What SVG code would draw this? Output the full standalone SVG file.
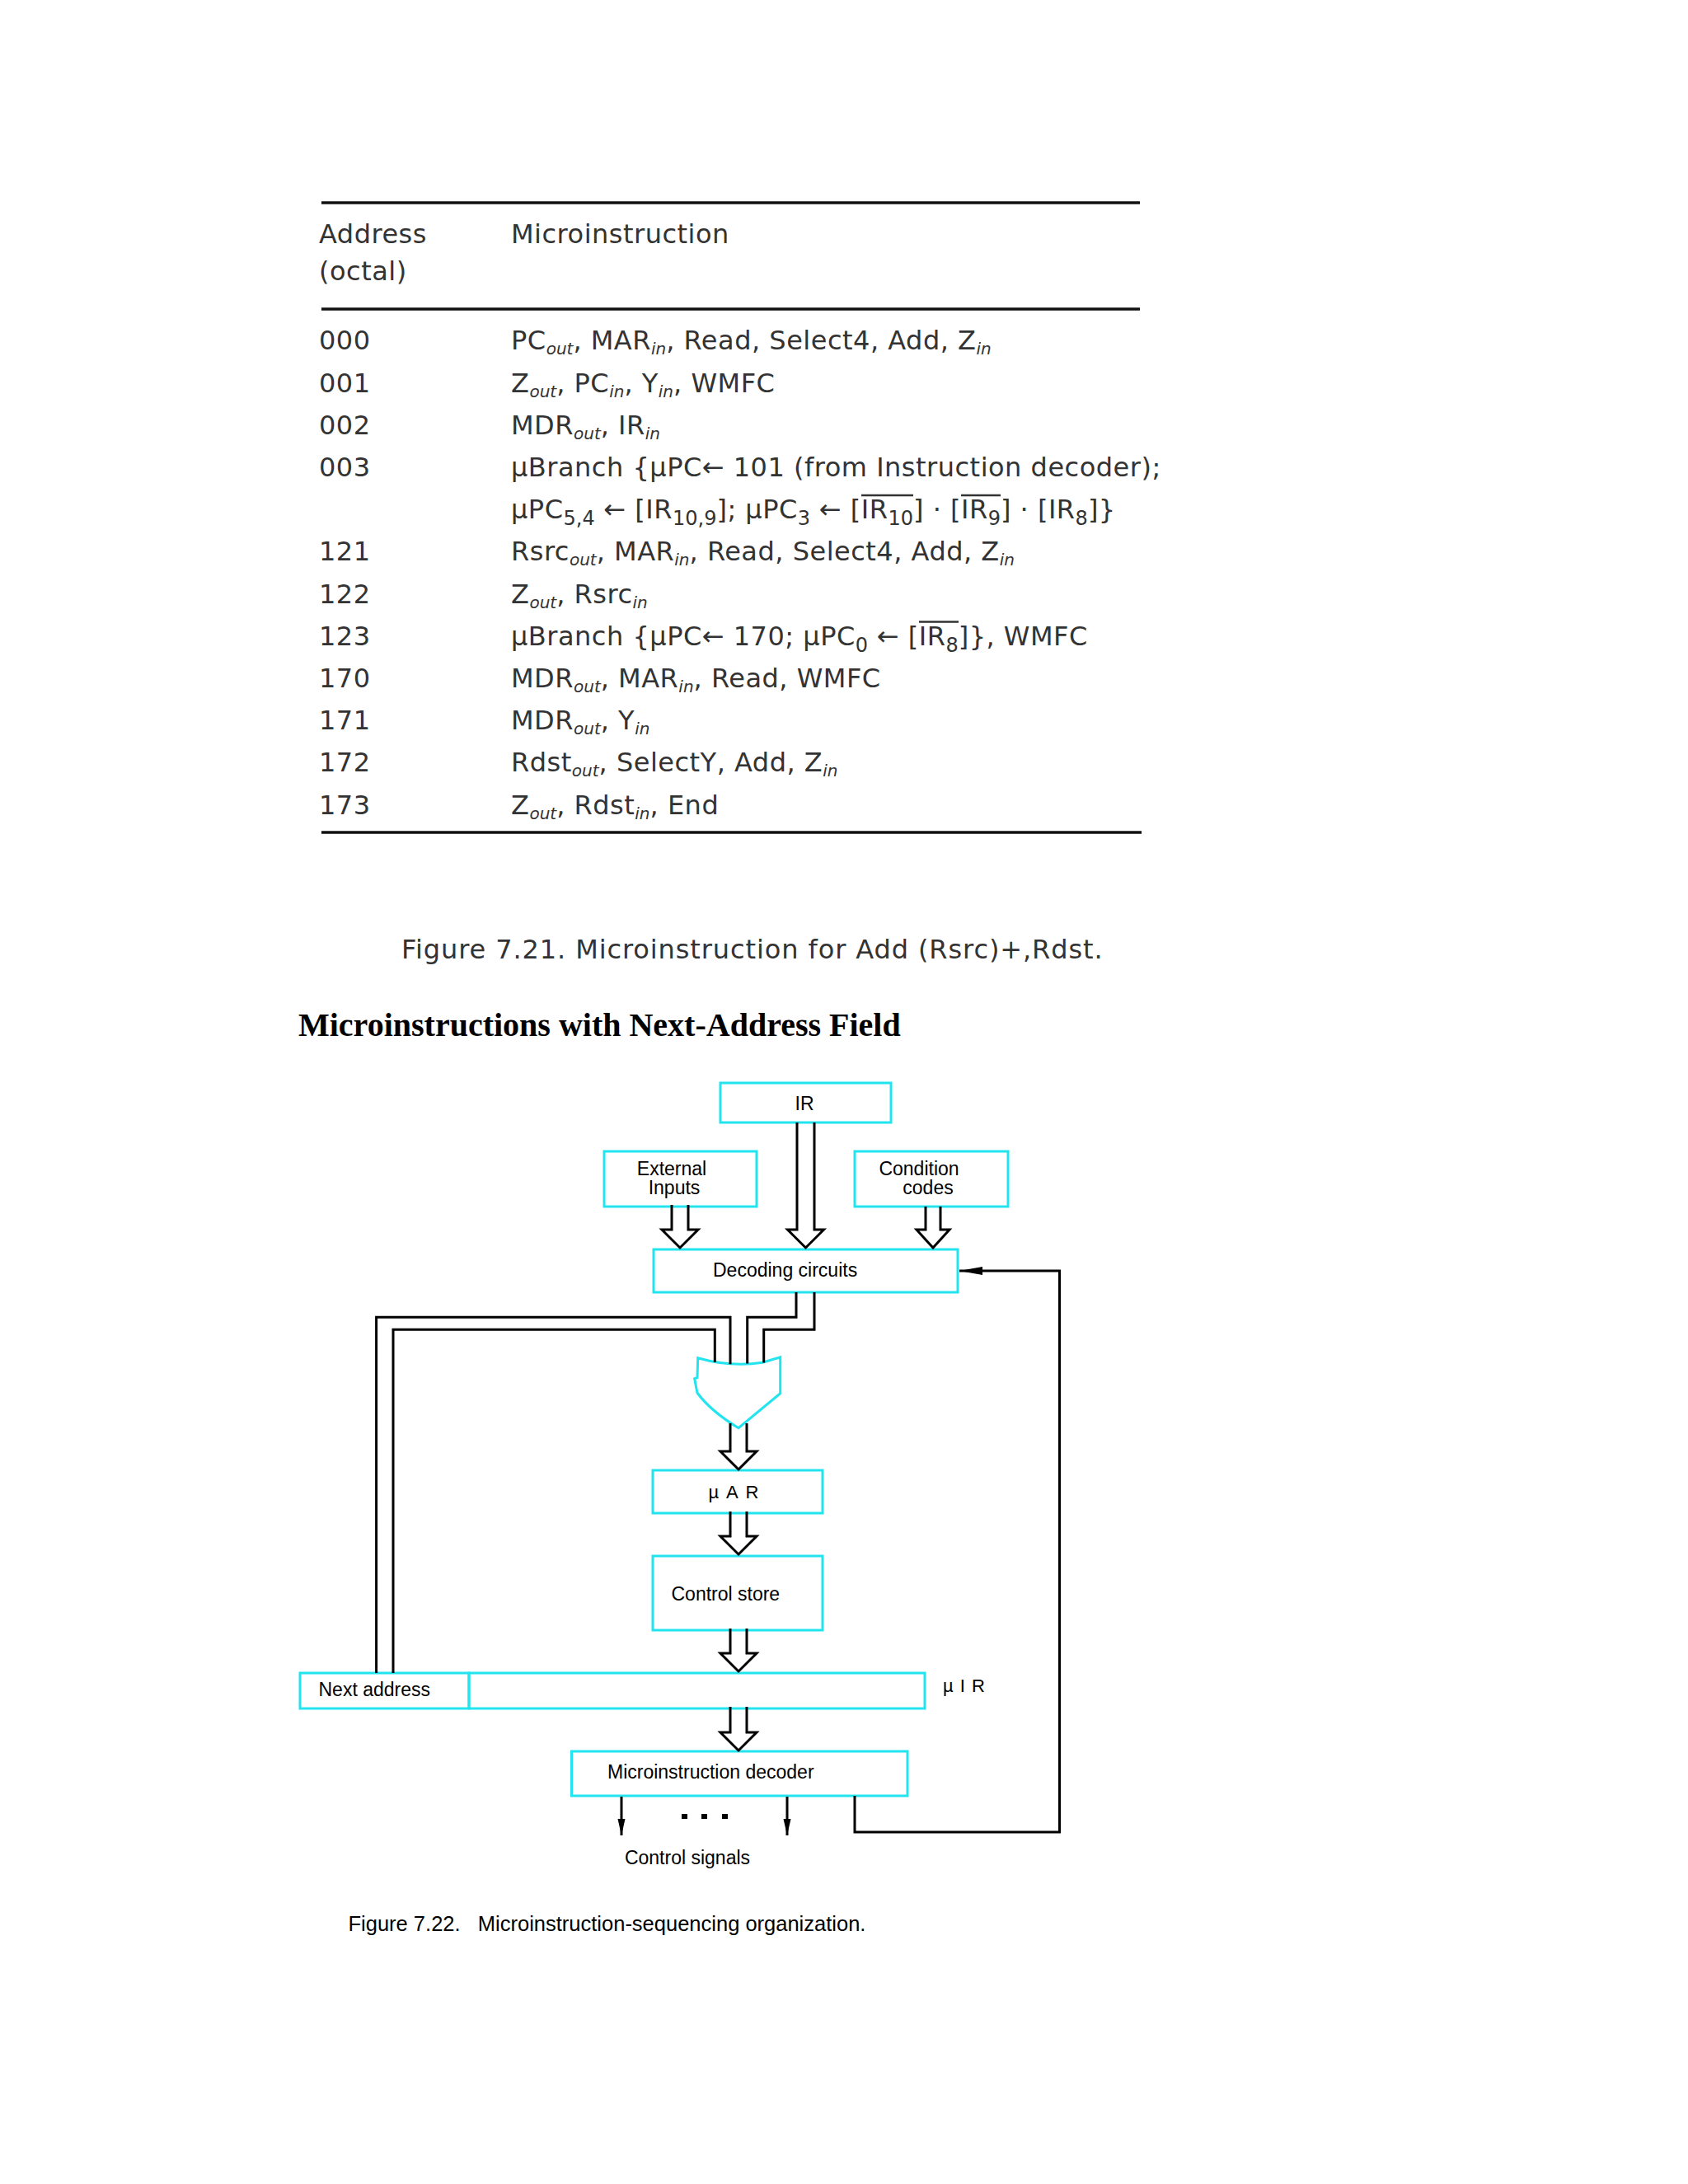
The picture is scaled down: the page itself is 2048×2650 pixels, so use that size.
<svg xmlns="http://www.w3.org/2000/svg" width="2048" height="2650" viewBox="0 0 2048 2650">
<style>
.t{font-family:"DejaVu Sans","Liberation Sans",sans-serif;font-size:32px;fill:#333;letter-spacing:0.5px}
.s{font-size:20px;font-style:italic;letter-spacing:0}
.n{font-size:24px;letter-spacing:0}
.ovl{stroke:#333;stroke-width:2.5}
.rule{stroke:#111;stroke-width:3.5}
.d{font-family:"Liberation Sans",Arial,sans-serif;font-size:23px;fill:#000}
.box{fill:none;stroke:#22e4ee;stroke-width:3}
.bus{fill:none;stroke:#000;stroke-width:3;stroke-linejoin:miter}
.ln{fill:none;stroke:#000;stroke-width:3}
.h{font-family:"Liberation Serif","Times New Roman",serif;font-size:40px;font-weight:bold;fill:#000}
</style>
<defs>
<marker id="fb" markerUnits="userSpaceOnUse" markerWidth="28" markerHeight="10" refX="28" refY="5" orient="auto">
<path d="M0,0 L28,5 L0,10 Z" fill="#000"/>
</marker>
<marker id="cs" markerUnits="userSpaceOnUse" markerWidth="20" markerHeight="10" refX="20" refY="5" orient="auto">
<path d="M0,0.5 L20,5 L0,9.5 Z" fill="#000"/>
</marker>
</defs>
<rect width="2048" height="2650" fill="#fff"/>

<g id="table">
<line class="rule" x1="390" y1="246" x2="1383" y2="246"/>
<line class="rule" x1="390" y1="375" x2="1383" y2="375"/>
<line class="rule" x1="390" y1="1010" x2="1385" y2="1010"/>
<text class="t" x="387" y="295">Address</text>
<text class="t" x="387" y="340">(octal)</text>
<text class="t" x="620" y="295">Microinstruction</text>

<text class="t" x="387" y="424.3">000</text>
<text class="t" x="620" y="424.3">PC<tspan class="s" dy="6">out</tspan><tspan dy="-6">, MAR</tspan><tspan class="s" dy="6">in</tspan><tspan dy="-6">, Read, Select4, Add, Z</tspan><tspan class="s" dy="6">in</tspan></text>

<text class="t" x="387" y="475.5">001</text>
<text class="t" x="620" y="475.5">Z<tspan class="s" dy="6">out</tspan><tspan dy="-6">, PC</tspan><tspan class="s" dy="6">in</tspan><tspan dy="-6">, Y</tspan><tspan class="s" dy="6">in</tspan><tspan dy="-6">, WMFC</tspan></text>

<text class="t" x="387" y="526.7">002</text>
<text class="t" x="620" y="526.7">MDR<tspan class="s" dy="6">out</tspan><tspan dy="-6">, IR</tspan><tspan class="s" dy="6">in</tspan></text>

<text class="t" x="387" y="577.9">003</text>
<text class="t" x="620" y="577.9">µBranch {µPC← 101 (from Instruction decoder);</text>
<text class="t" x="620" y="629.1">µPC<tspan class="n" dy="8">5,4</tspan><tspan dy="-8"> ← [IR</tspan><tspan class="n" dy="8">10,9</tspan><tspan dy="-8">]; µPC</tspan><tspan class="n" dy="8">3</tspan><tspan dy="-8"> ← [IR</tspan><tspan class="n" dy="8">10</tspan><tspan dy="-8">] · [IR</tspan><tspan class="n" dy="8">9</tspan><tspan dy="-8">] · [IR</tspan><tspan class="n" dy="8">8</tspan><tspan dy="-8">]}</tspan></text>
<line class="ovl" x1="1045" y1="601" x2="1108" y2="601"/>
<line class="ovl" x1="1166" y1="601" x2="1214" y2="601"/>

<text class="t" x="387" y="680.3">121</text>
<text class="t" x="620" y="680.3">Rsrc<tspan class="s" dy="6">out</tspan><tspan dy="-6">, MAR</tspan><tspan class="s" dy="6">in</tspan><tspan dy="-6">, Read, Select4, Add, Z</tspan><tspan class="s" dy="6">in</tspan></text>

<text class="t" x="387" y="731.5">122</text>
<text class="t" x="620" y="731.5">Z<tspan class="s" dy="6">out</tspan><tspan dy="-6">, Rsrc</tspan><tspan class="s" dy="6">in</tspan></text>

<text class="t" x="387" y="782.7">123</text>
<text class="t" x="620" y="782.7">µBranch {µPC← 170; µPC<tspan class="n" dy="8">0</tspan><tspan dy="-8"> ← [IR</tspan><tspan class="n" dy="8">8</tspan><tspan dy="-8">]}, WMFC</tspan></text>
<line class="ovl" x1="1115" y1="754.6" x2="1163" y2="754.6"/>

<text class="t" x="387" y="833.9">170</text>
<text class="t" x="620" y="833.9">MDR<tspan class="s" dy="6">out</tspan><tspan dy="-6">, MAR</tspan><tspan class="s" dy="6">in</tspan><tspan dy="-6">, Read, WMFC</tspan></text>

<text class="t" x="387" y="885.1">171</text>
<text class="t" x="620" y="885.1">MDR<tspan class="s" dy="6">out</tspan><tspan dy="-6">, Y</tspan><tspan class="s" dy="6">in</tspan></text>

<text class="t" x="387" y="936.3">172</text>
<text class="t" x="620" y="936.3">Rdst<tspan class="s" dy="6">out</tspan><tspan dy="-6">, SelectY, Add, Z</tspan><tspan class="s" dy="6">in</tspan></text>

<text class="t" x="387" y="987.5">173</text>
<text class="t" x="620" y="987.5">Z<tspan class="s" dy="6">out</tspan><tspan dy="-6">, Rdst</tspan><tspan class="s" dy="6">in</tspan><tspan dy="-6">, End</tspan></text>

<text class="t" x="487" y="1163" style="letter-spacing:0.9px">Figure 7.21. Microinstruction for Add (Rsrc)+,Rdst.</text>
</g>

<text id="heading" class="h" x="362" y="1257">Microinstructions with Next-Address Field</text>

<g id="ir"><rect class="box" x="874" y="1314" width="207" height="48"/><text class="d" x="976" y="1346.5" text-anchor="middle">IR</text></g>
<g id="external-inputs"><rect class="box" x="733" y="1397" width="185" height="67"/><text class="d" x="815" y="1426" text-anchor="middle">External</text><text class="d" x="818" y="1449" text-anchor="middle">Inputs</text></g>
<g id="condition-codes"><rect class="box" x="1037" y="1397" width="186" height="67"/><text class="d" x="1115" y="1426" text-anchor="middle">Condition</text><text class="d" x="1126" y="1449" text-anchor="middle">codes</text></g>
<g id="decoding-circuits"><rect class="box" x="793" y="1516" width="369" height="52"/><text class="d" x="865" y="1549.3">Decoding circuits</text></g>
<g id="or-gate"><path class="box" d="M846.7,1647.7 Q886,1659 925,1653.3 L946.7,1646.7 L946.7,1690.7 L896,1732.7 Q862,1712 846,1690 L844,1680 L842.7,1672.7 L846,1671.7 Z"/></g>
<g id="uar"><rect class="box" x="792" y="1784" width="206" height="52"/><text class="d" x="891" y="1818" text-anchor="middle" style="font-size:22px;letter-spacing:2px">µ A R</text></g>
<g id="control-store"><rect class="box" x="792" y="1888" width="206" height="90"/><text class="d" x="814.5" y="1941.7">Control store</text></g>
<g id="uir"><rect class="box" x="364" y="2030" width="205" height="43"/><rect class="box" x="569" y="2030" width="553" height="43"/><text class="d" x="386.5" y="2058.3">Next address</text><text class="d" x="1144" y="2052.7" style="font-size:22px;letter-spacing:1px">µ I R</text></g>
<g id="microinstruction-decoder"><rect class="box" x="693.5" y="2125" width="407.5" height="54"/><text class="d" x="737" y="2158.3">Microinstruction decoder</text></g>
<g id="control-signals"><rect x="827" y="2201" width="7" height="6" fill="#000"/><rect x="851" y="2201" width="7" height="6" fill="#000"/><rect x="876" y="2201" width="7" height="6" fill="#000"/><text class="d" x="834" y="2261.7" text-anchor="middle">Control signals</text></g>

<g id="connectors">
<path class="bus" d="M815,1462 V1492 H803 L825,1514 L847,1492 H835 V1462"/>
<path class="bus" d="M967,1362 V1492 H955.5 L977.5,1514 L999.5,1492 H988 V1362"/>
<path class="bus" d="M1123,1464 V1492 H1112 L1132,1514 L1152,1492 H1141 V1464"/>
<path class="bus" d="M966,1568 V1598.3 H906.7 V1654.5"/>
<path class="bus" d="M988,1568 V1613.3 H926.7 V1653.5"/>
<path class="bus" d="M456.6,2030 V1598.3 H886 V1655.3"/>
<path class="bus" d="M477,2030 V1613.3 H867.3 V1652.7"/>
<path class="bus" d="M886,1727 V1761 H874 L896,1783 L918,1761 H906 V1727"/>
<path class="bus" d="M886,1834 V1864 H874 L896,1886 L918,1864 H906 V1834"/>
<path class="bus" d="M886,1976 V2006 H874 L896,2028 L918,2006 H906 V1976"/>
<path class="bus" d="M886,2071 V2102 H874 L896,2124 L918,2102 H906 V2071"/>
<path class="ln" d="M1037,2179 V2223 H1285.5 V1542 H1164" marker-end="url(#fb)"/>
<path class="ln" d="M754,2180 V2227" marker-end="url(#cs)"/>
<path class="ln" d="M955,2180 V2227" marker-end="url(#cs)"/>
</g>

<text id="caption-722" class="d" x="422.5" y="2343" style="font-size:25.5px" xml:space="preserve">Figure 7.22.   Microinstruction-sequencing organization.</text>
</svg>
